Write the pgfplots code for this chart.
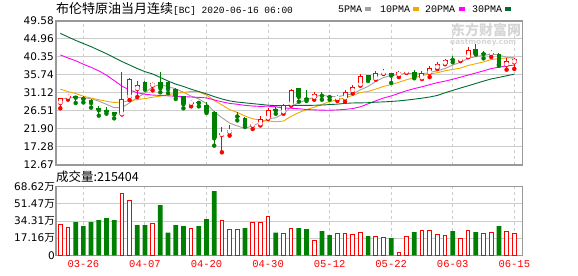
\documentclass[border=0pt]{standalone}
\usepackage{pgfplots}
\pgfplotsset{compat=1.18}
\usepackage{pgfplotstable}
\usepackage{fontspec}
\setmainfont{DejaVu Sans}
\newfontfamily\cjk{Noto Sans CJK SC}
\newfontfamily\mono{Liberation Mono}
\definecolor{kred}{rgb}{1,0,0}
\definecolor{kgreen}{rgb}{0,0.5,0}
\definecolor{maA}{rgb}{0.63,0.63,0.63}
\definecolor{maB}{rgb}{0.95,0.66,0}
\definecolor{maC}{rgb}{1,0,1}
\definecolor{maD}{rgb}{0,0.42,0.2}
\definecolor{gridc}{rgb}{0.8,0.8,0.8}
\definecolor{axisc}{rgb}{0.6,0.6,0.6}
\definecolor{wmark}{rgb}{0.84,0.84,0.84}

% up candles: x open high low close
\pgfplotstableread{
x o h l c
1 28.56 29.9 27.2 29.85
2 29.93 30.96 29.42 30.44
9 25.66 36.4 25.66 29.59
10 30.1 35.0 29.3 34.72
11 32.15 34.2 30.1 33.18
13 33.0 34.03 31.8 33.69
18 28.4 29.4 27.7 28.7
22 20.36 22.41 15.92 20.88
23 21.05 22.93 20.2 21.73
26 22.76 23.8 21.9 23.27
27 23.1 25.3 22.8 24.47
28 24.6 27.2 24.5 26.69
30 26.17 28.2 25.8 28.05
31 28.22 32.2 27.9 32.0
34 29.93 31.3 29.4 30.96
37 29.6 30.6 29.1 29.85
38 29.76 31.8 28.9 31.47
39 31.64 33.2 31.0 32.66
40 33.18 35.9 33.0 35.57
42 34.72 36.8 34.55 36.25
43 36.1 37.3 36.0 36.3
45 35.74 36.8 35.2 36.42
46 36.4 37.3 36.3 36.6
48 34.9 36.8 34.7 36.25
49 36.25 38.1 35.2 37.45
50 37.6 39.0 37.3 38.47
51 38.65 39.8 38.5 39.67
53 39.55 40.3 39.3 39.8
54 40.35 42.9 40.3 42.23
57 41.15 42.1 40.35 41.4
59 38.3 40.0 37.1 39.33
60 38.99 40.2 37.3 39.84
}\redk
% down candles
\pgfplotstableread{
x o h l c
3 30.27 30.3 28.56 29.93
4 29.93 30.4 28.7 29.6
5 29.25 29.6 27.37 28.56
6 27.37 27.7 25.32 26.69
7 26.86 27.5 25.83 26.34
8 26.17 26.34 24.63 25.66
12 33.86 34.2 31.98 32.49
14 34.03 36.6 31.3 32.32
15 34.03 34.2 31.1 32.15
16 32.15 32.5 29.6 30.27
17 30.27 30.4 27.2 28.22
19 28.85 29.1 27.7 28.6
20 28.05 28.7 26.0 26.34
21 26.34 26.5 17.63 19.51
24 25.35 26.3 24.1 25.1
25 24.81 24.9 22.4 22.93
29 26.95 27.5 25.8 26.6
32 32.49 32.5 28.9 30.1
33 29.75 31.8 29.1 29.5
35 30.65 31.3 29.4 30.4
36 30.35 30.6 29.4 30.1
41 35.74 35.8 34.2 34.55
44 36.25 36.3 33.7 35.57
47 36.6 36.9 34.9 35.23
52 39.85 40.5 39.0 39.6
55 42.4 43.8 41.0 41.04
56 41.35 41.9 40.0 41.1
58 41.21 41.4 38.1 38.47
}\greenk
% volume (10k units)
\pgfplotstableread{
x v
1 31.3
2 28.0
9 62.0
10 55.3
13 32.3
18 27.3
22 35.0
23 26.3
24 26.3
26 33.3
27 33.3
28 39.3
30 22.3
31 27.3
34 15.3
37 22.3
38 22.3
39 21.3
40 23.3
42 19.3
43 18.3
45 3.3
46 19.3
48 25.3
49 25.3
50 21.3
51 20.3
53 17.3
54 25.3
56 22.3
57 23.3
59 24.3
60 21.5
}\redv
\pgfplotstableread{
x v
3 33.3
4 29.3
5 33.3
6 35.3
7 37.3
8 35.3
11 30.3
12 30.3
14 50.3
15 22.7
16 30.3
17 29.3
19 29.3
20 36.3
21 64.3
25 27.3
29 22.7
32 27.3
33 26.3
35 24.3
36 20.3
41 19.3
44 17.3
47 23.3
52 24.3
55 23.3
58 29.3
}\greenv

\begin{document}
\begin{tikzpicture}
\useasboundingbox (0,0) rectangle (578bp,276bp);

\begin{axis}[
  at={(56bp,111bp)}, anchor=south west, scale only axis,
  width=466.3bp, height=144bp,
  xmin=0.44, xmax=61.04, ymin=12.67, ymax=49.58,
  xtick={4,12,20,28,36,44,52,60}, xticklabels={},
  ytick={12.67,17.28375,21.8975,26.51125,31.125,35.73875,40.3525,44.96625,49.58},
  yticklabels={12.67,17.28,21.90,26.51,31.12,35.74,40.35,44.96,49.58},
  major tick length=0pt,
  xmajorgrids, ymajorgrids,
  x grid style={gridc, line width=1bp, dash pattern=on 3bp off 3bp},
  y grid style={gridc, line width=1bp},
  axis line style={axisc, line width=1.2bp},
  yticklabel style={font=\fontsize{10.5bp}{12bp}\selectfont, text=black, inner sep=2bp},
]
% moving averages
\addplot[maA, line width=0.9bp] coordinates {
(1,29.5)(2,29.8)(3,30.0)(4,29.9)(5,29.68)(6,29.04)(7,28.22)(8,27.37)(9,27.37)(10,28.6)
(11,29.9)(12,31.13)(13,32.73)(14,33.28)(15,32.77)(16,32.18)(17,31.33)(18,30.33)(19,29.59)(20,28.43)
(21,26.27)(22,24.81)(23,23.41)(24,22.71)(25,22.03)(26,22.78)(27,23.5)(28,24.49)(29,24.79)(30,25.82)
(31,27.56)(32,28.71)(33,29.27)(34,30.12)(35,30.59)(36,30.21)(37,30.16)(38,30.56)(39,30.9)(40,31.92)
(41,32.81)(42,34.1)(43,35.07)(44,35.65)(45,35.82)(46,36.23)(47,36.02)(48,36.01)(49,36.39)(50,36.8)
(51,37.41)(52,38.29)(53,39.0)(54,39.95)(55,40.47)(56,40.75)(57,41.11)(58,40.85)(59,40.27)(60,40.03)};
\addplot[maB, line width=0.9bp] coordinates {
(1,32.1)(2,31.5)(3,31.0)(4,30.3)(5,29.8)(6,29.4)(7,29.0)(8,28.7)(9,28.8)(10,29.14)
(11,29.47)(12,29.68)(13,30.05)(14,30.32)(15,30.68)(16,31.04)(17,31.23)(18,31.53)(19,31.43)(20,30.6)
(21,29.23)(22,28.07)(23,26.87)(24,26.15)(25,25.23)(26,24.53)(27,24.15)(28,23.95)(29,23.75)(30,23.92)
(31,25.17)(32,26.1)(33,26.88)(34,27.47)(35,28.21)(36,28.9)(37,29.43)(38,29.91)(39,30.5)(40,31.26)
(41,31.51)(42,32.13)(43,32.81)(44,33.27)(45,33.87)(46,34.52)(47,35.06)(48,35.54)(49,36.02)(50,36.31)
(51,36.82)(52,37.16)(53,37.51)(54,38.17)(55,38.63)(56,39.08)(57,39.7)(58,39.92)(59,40.11)(60,40.25)};
\addplot[maC, line width=0.9bp] coordinates {
(1,40.9)(2,40.1)(3,39.4)(4,38.5)(5,37.7)(6,36.8)(7,35.7)(8,34.3)(9,32.9)(10,31.9)
(11,31.2)(12,30.8)(13,30.6)(14,30.5)(15,30.4)(16,30.3)(17,30.2)(18,30.1)(19,30.0)(20,29.87)
(21,29.35)(22,28.87)(23,28.46)(24,28.24)(25,27.96)(26,27.78)(27,27.69)(28,27.74)(29,27.6)(30,27.26)
(31,27.21)(32,27.09)(33,26.88)(34,26.81)(35,26.72)(36,26.71)(37,26.79)(38,26.93)(39,27.13)(40,27.59)
(41,28.35)(42,29.12)(43,29.84)(44,30.37)(45,31.04)(46,31.71)(47,32.25)(48,32.72)(49,33.26)(50,33.78)
(51,34.17)(52,34.64)(53,35.16)(54,35.72)(55,36.25)(56,36.8)(57,37.38)(58,37.73)(59,38.07)(60,38.28)};
\addplot[maD, line width=0.9bp] coordinates {
(1,46.4)(2,45.5)(3,44.6)(4,43.8)(5,43.0)(6,42.1)(7,41.2)(8,40.2)(9,39.2)(10,38.3)
(11,37.4)(12,36.6)(13,36.0)(14,35.1)(15,34.2)(16,33.4)(17,32.8)(18,32.1)(19,31.5)(20,30.9)
(21,30.2)(22,29.6)(23,29.1)(24,28.8)(25,28.6)(26,28.4)(27,28.2)(28,28.0)(29,27.9)(30,27.89)
(31,27.96)(32,27.95)(33,27.94)(34,27.98)(35,28.04)(36,28.16)(37,28.27)(38,28.46)(39,28.57)(40,28.6)
(41,28.64)(42,28.77)(43,28.85)(44,28.96)(45,29.1)(46,29.31)(47,29.55)(48,29.8)(49,30.1)(50,30.5)
(51,31.17)(52,31.8)(53,32.4)(54,32.97)(55,33.57)(56,34.17)(57,34.73)(58,35.12)(59,35.54)(60,35.94)};
% wicks
\addplot[color=kred, only marks, mark=none, error bars/.cd, y dir=plus, y explicit, error mark=none,
  error bar style={color=kred, line width=1bp}]
  table[x=x, y=l, y error plus expr=\thisrow{h}-\thisrow{l}] {\redk};
\addplot[color=kgreen, only marks, mark=none, error bars/.cd, y dir=plus, y explicit, error mark=none,
  error bar style={color=kgreen, line width=1bp}]
  table[x=x, y=l, y error plus expr=\thisrow{h}-\thisrow{l}] {\greenk};
% bodies
\addplot[color=kgreen, only marks, mark=none, error bars/.cd, y dir=plus, y explicit, error mark=none,
  error bar style={color=kgreen, line width=4.8bp}]
  table[x=x, y=c, y error plus expr=\thisrow{o}-\thisrow{c}] {\greenk};
\addplot[color=kred, only marks, mark=none, error bars/.cd, y dir=plus, y explicit, error mark=none,
  error bar style={color=kred, line width=5bp}]
  table[x=x, y=o, y error plus expr=\thisrow{c}-\thisrow{o}] {\redk};
\addplot[color=white, only marks, mark=none, error bars/.cd, y dir=plus, y explicit, error mark=none,
  error bar style={color=white, line width=3bp}]
  table[x=x, y expr=\thisrow{o}+0.26, y error plus expr={max(\thisrow{c}-\thisrow{o}-0.52,0)}] {\redk};
\end{axis}

\begin{axis}[
  at={(56bp,20.7bp)}, anchor=south west, scale only axis,
  width=466.3bp, height=68.6bp,
  xmin=0.44, xmax=61.04, ymin=0, ymax=68.62,
  xtick={4,12,20,28,36,44,52,60},
  xticklabels={03-26,04-07,04-20,04-30,05-12,05-22,06-03,06-15},
  ytick={0,17.155,34.31,51.465,68.62},
  yticklabels={0,{17.16{\cjk 万}},{34.31{\cjk 万}},{51.47{\cjk 万}},{68.62{\cjk 万}}},
  major tick length=0pt,
  xmajorgrids, ymajorgrids,
  x grid style={gridc, line width=1bp, dash pattern=on 3bp off 3bp},
  y grid style={gridc, line width=1bp},
  axis line style={axisc, line width=1.2bp},
  yticklabel style={font=\fontsize{10.5bp}{12bp}\selectfont, text=black, inner sep=1bp},
  xticklabel style={font=\mono\fontsize{10.5bp}{12bp}\selectfont, text=kred, yshift=-2bp},
]
\addplot[ybar, bar width=3.6bp, bar shift=0pt, color=kred, draw=kred, fill=white, line width=1bp] table[x=x, y=v] {\redv};
\addplot[ybar, bar width=4.7bp, bar shift=0pt, color=kgreen, draw=none, fill=kgreen] table[x=x, y=v] {\greenv};
\end{axis}

% title and legend
\node[anchor=west, inner sep=0] at (56bp,267bp)
  {{\cjk\fontsize{13bp}{13bp}\selectfont 布伦特原油当月连续}{\mono\fontsize{9.5bp}{10bp}\selectfont [BC] 2020-06-16 06:00}};
\node[anchor=west, inner sep=0, font=\mono\fontsize{10bp}{10bp}\selectfont] at (338bp,267bp) {5PMA};
\fill[maA] (365bp,265bp) rectangle (371bp,269bp);
\node[anchor=west, inner sep=0, font=\mono\fontsize{10bp}{10bp}\selectfont] at (380bp,267bp) {10PMA};
\fill[maB] (413bp,265bp) rectangle (419bp,269bp);
\node[anchor=west, inner sep=0, font=\mono\fontsize{10bp}{10bp}\selectfont] at (425bp,267bp) {20PMA};
\fill[maC] (459bp,265bp) rectangle (465bp,269bp);
\node[anchor=west, inner sep=0, font=\mono\fontsize{10bp}{10bp}\selectfont] at (472bp,267bp) {30PMA};
\fill[maD] (505bp,265bp) rectangle (511bp,269bp);
% watermark
\node[anchor=west, inner sep=0, text=wmark] at (451bp,246bp) {\cjk\bfseries\fontsize{14bp}{14bp}\selectfont 东方财富网};
\node[anchor=west, inner sep=0, text=wmark] at (450bp,233.5bp) {\bfseries\fontsize{7.5bp}{8bp}\selectfont eastmoney.com};
% volume caption
\node[anchor=west, inner sep=0] at (56bp,99bp) {\cjk\fontsize{12.5bp}{12.5bp}\selectfont 成交量:215404};
\end{tikzpicture}
\end{document}
